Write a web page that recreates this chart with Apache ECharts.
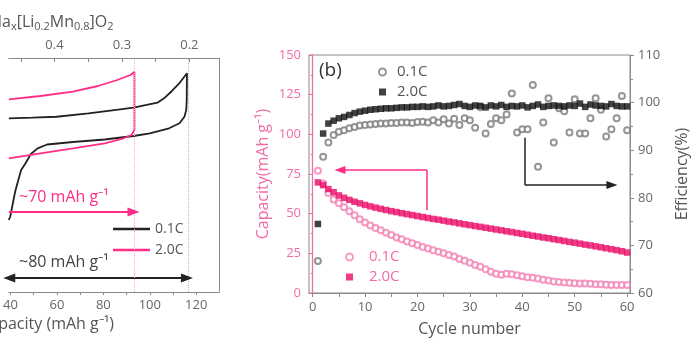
<!DOCTYPE html>
<html>
<head>
<meta charset="utf-8">
<script src="https://cdn.jsdelivr.net/npm/echarts@6/dist/echarts.min.js"></script>
<style>
  html, body { margin: 0; padding: 0; background: #fff; }
  #chart { width: 700px; height: 350px; }
</style>
</head>
<body>
<div id="chart"></div>
<script>
// panel (a): voltage profiles, capacity (mAh/g) vs voltage (V)
const v01Cap = [39.3, 49.5, 59.9, 73.6, 84.7, 93.0, 103.3, 106.6, 109.5, 112.8, 116.0, 115.9, 115.7, 114.9, 112.8, 108.3, 100, 93.0, 80.6, 66.9, 55.8, 51.7, 48.8, 46.3, 44.6, 43.4, 42.0, 39.9, 39.3];
const v01Volt = [3.727, 3.735, 3.747, 3.791, 3.833, 3.863, 3.927, 3.994, 4.077, 4.179, 4.304, 3.96, 3.833, 3.747, 3.663, 3.599, 3.535, 3.5, 3.455, 3.423, 3.391, 3.342, 3.269, 3.141, 3.064, 2.936, 2.782, 2.465, 2.423];
const v20Cap = [39.3, 52.9, 66.9, 77.7, 86.0, 91.7, 93.4, 93.4, 92.1, 88.8, 80.6, 66.9, 52.9, 39.3];
const v20Volt = [3.97, 4.013, 4.068, 4.141, 4.218, 4.282, 4.324, 3.577, 3.513, 3.471, 3.406, 3.342, 3.278, 3.214];
const naTicks = [0.2, 0.25, 0.3, 0.35, 0.4, 0.45];
const naLabels = [0.2, 0.3, 0.4];
const capTicks = [40, 50, 60, 70, 80, 90, 100, 110, 120];
const capLabels = [40, 60, 80, 100, 120];

// panel (b): cycling
const cycles = [1, 2, 3, 4, 5, 6, 7, 8, 9, 10, 11, 12, 13, 14, 15, 16, 17, 18, 19, 20,
  21, 22, 23, 24, 25, 26, 27, 28, 29, 30, 31, 32, 33, 34, 35, 36, 37, 38, 39, 40,
  41, 42, 43, 44, 45, 46, 47, 48, 49, 50, 51, 52, 53, 54, 55, 56, 57, 58, 59, 60];
const cap01 = [77, 69, 63, 59, 56.5, 54, 51.5, 49, 46.5, 44.5,
  42.5, 41, 39.5, 38, 36.5, 35, 33.8, 32.5, 31.3, 30.2,
  29, 28, 27, 26, 25, 24, 23, 21.5, 20.3, 19,
  17.6, 16.6, 15, 13.4, 12.2, 11.5, 12.2, 11.8, 11.2, 10.5,
  10, 9.6, 9.2, 8.3, 7.8, 7.3, 7, 6.6, 6.4, 6.2,
  6, 6, 5.8, 5.5, 5.5, 5.2, 5, 5, 5, 5];
const cap20 = [69.7, 68, 65.5, 63.5, 61.5, 60, 58.7, 57.5, 56.5, 55.5,
  54.6, 53.8, 53, 52.3, 51.6, 51, 50.3, 49.7, 49.1, 48.5,
  47.9, 47.3, 46.7, 46.2, 45.6, 45, 44.5, 43.9, 43.3, 42.8,
  42.2, 41.7, 41.1, 40.6, 40, 39.5, 38.9, 38.4, 37.8, 37.3,
  36.7, 36.1, 35.6, 35, 34.5, 33.9, 33.4, 32.8, 32.2, 31.7,
  31.1, 30.5, 30, 29.4, 28.8, 28.2, 27.6, 27, 26.3, 25.5];
const eff01 = [66.7, 88.6, 91.6, 93.2, 93.9, 94.2, 94.6, 94.9, 95.2, 95.3,
  95.4, 95.5, 95.6, 95.6, 95.7, 95.7, 95.8, 95.8, 95.7, 95.9,
  96.0, 95.8, 96.3, 95.8, 96.5, 95.6, 96.6, 95.3, 96.7, 96.3,
  94.7, 99.0, 93.5, 95.5, 96.7, 96.3, 97.5, 101.9, 93.7, 94.4,
  94.4, 103.7, 86.5, 95.8, 100.9, 91.6, 98.8, 98.2, 93.7, 100.7,
  93.5, 93.5, 96.7, 100.9, 98.5, 92.9, 94.4, 96.7, 101.4, 94.2];
const eff20 = [74.5, 93.5, 95.6, 96.2, 96.7, 97.0, 97.4, 97.8, 98.1, 98.3,
  98.5, 98.6, 98.7, 98.8, 98.8, 98.9, 99.0, 99.0, 99.1, 99.1,
  99.2, 99.1, 99.2, 99.4, 99.2, 99.3, 99.5, 99.7, 99.3, 99.1,
  99.4, 99.3, 99.0, 99.4, 99.2, 99.5, 99.1, 99.3, 99.2, 99.4,
  99.0, 99.3, 99.6, 99.1, 99.3, 99.4, 99.3, 99.2, 99.4, 99.3,
  99.8, 99.1, 99.6, 99.4, 99.3, 99.2, 99.7, 99.3, 99.2, 99.2];
const cycleTicks = [0, 5, 10, 15, 20, 25, 30, 35, 40, 45, 50, 55, 60];
const cycleLabels = [0, 10, 20, 30, 40, 50, 60];

const FONT = 'Open Sans';
const GRAY = '#555';
const AXIS = '#8a8a8a';
const PINK = '#f26ca7';
const PINK_DARK = '#ea0a68';
const PINK_LINE = '#ff2d87';

const zip = (a, b) => a.map((v, i) => [v, b[i]]);
const legendName = name => name.split('|')[1];

const myChart = echarts.init(document.getElementById('chart'));

const option = {
    backgroundColor: '#fff',
    animation: false,
    textStyle: {fontFamily: FONT},
    grid: [
        {left: 0, top: 58, width: 219, height: 234},
        {left: 309, top: 55, width: 321, height: 238, show: true, borderColor: AXIS, borderWidth: 1}
    ],
    legend: [
        {
            data: ['v|0.1C', 'v|2.0C'], orient: 'vertical', left: 113, top: 222, padding: 0,
            icon: 'rect', itemWidth: 37, itemHeight: 2.5, itemGap: 7, formatter: legendName,
            textStyle: {color: GRAY, fontSize: 14, lineHeight: 14, fontFamily: FONT}
        },
        {
            data: [{name: 'e|0.1C', icon: 'emptyCircle'}, {name: 'e|2.0C', icon: 'rect'}],
            orient: 'vertical', left: 378, top: 64, padding: 0,
            itemWidth: 7, itemHeight: 7, itemGap: 4, formatter: legendName,
            textStyle: {color: GRAY, fontSize: 15, lineHeight: 16, fontFamily: FONT, padding: [0, 0, 0, 6]}
        },
        {
            data: [{name: 'c|0.1C', icon: 'emptyCircle'}, {name: 'c|2.0C', icon: 'rect'}],
            orient: 'vertical', left: 345, top: 249, padding: 0,
            itemWidth: 7, itemHeight: 7, itemGap: 4, formatter: legendName,
            textStyle: {color: PINK, fontSize: 15, lineHeight: 16, fontFamily: FONT, padding: [0, 0, 0, 11]}
        }
    ],
    xAxis: [
        {
            gridIndex: 0, type: 'value', min: 39.3, max: 129.8,
            axisLine: {lineStyle: {color: AXIS}},
            axisTick: {customValues: capTicks, length: 3, lineStyle: {color: AXIS}},
            axisLabel: {customValues: capLabels, color: '#666', fontSize: 13, margin: 7},
            splitLine: {show: false}
        },
        {
            gridIndex: 0, type: 'value', position: 'top', inverse: true, min: 0.156, max: 0.4678,
            axisLine: {lineStyle: {color: AXIS}},
            axisTick: {inside: true, customValues: naTicks, length: 4, lineStyle: {color: AXIS}},
            axisLabel: {customValues: naLabels, color: '#666', fontSize: 13, margin: 6,
                formatter: v => v.toFixed(1)},
            splitLine: {show: false}
        },
        {
            gridIndex: 1, type: 'value', min: -0.7, max: 60.55,
            name: 'Cycle number', nameLocation: 'middle', nameGap: 28,
            nameTextStyle: {color: GRAY, fontSize: 16, fontFamily: FONT},
            axisLine: {lineStyle: {color: AXIS}},
            axisTick: {customValues: cycleTicks, length: 4, lineStyle: {color: AXIS}},
            axisLabel: {customValues: cycleLabels, color: '#666', fontSize: 13, margin: 8},
            splitLine: {show: false}
        }
    ],
    yAxis: [
        {gridIndex: 0, type: 'value', min: 1.5, max: 4.5, show: false},
        {
            gridIndex: 0, type: 'value', position: 'right', min: 0, max: 1,
            axisLine: {show: true, lineStyle: {color: AXIS}},
            axisTick: {show: false}, axisLabel: {show: false}, splitLine: {show: false}
        },
        {
            gridIndex: 1, type: 'value', min: 0, max: 150, interval: 25,
            name: 'Capacity(mAh g⁻¹)', nameLocation: 'middle', nameGap: 38,
            nameTextStyle: {color: PINK, fontSize: 16, fontFamily: FONT},
            axisLine: {show: true, lineStyle: {color: PINK, width: 1.3}},
            axisTick: {length: 4, lineStyle: {color: PINK}},
            minorTick: {show: true, splitNumber: 2, length: 2, lineStyle: {color: PINK}},
            axisLabel: {color: PINK, fontSize: 13, margin: 8},
            splitLine: {show: false}
        },
        {
            gridIndex: 1, type: 'value', position: 'right', min: 60, max: 110, interval: 10,
            name: 'Efficiency(%)', nameLocation: 'middle', nameGap: 44, nameRotate: 90,
            nameTextStyle: {color: GRAY, fontSize: 16, fontFamily: FONT},
            axisLine: {show: true, lineStyle: {color: AXIS}},
            axisTick: {length: 4, lineStyle: {color: AXIS}},
            minorTick: {show: true, splitNumber: 2, length: 3, lineStyle: {color: AXIS}},
            axisLabel: {color: '#666', fontSize: 13, margin: 8},
            splitLine: {show: false}
        }
    ],
    series: [
        {
            name: 'v|0.1C', type: 'line', xAxisIndex: 0, yAxisIndex: 0,
            data: zip(v01Cap, v01Volt), symbol: 'none',
            lineStyle: {color: '#222', width: 1.8}, itemStyle: {color: '#222'},
            markLine: {
                silent: true, animation: false, label: {show: false}, symbol: 'none',
                data: [
                    {xAxis: 116.5, lineStyle: {color: '#bbb', type: 'dotted', width: 1}},
                    [
                        {coord: [39.5, 1.68], symbol: 'triangle', symbolSize: [9, 12],
                            lineStyle: {color: '#222', width: 2.2, type: 'solid'}},
                        {coord: [116, 1.68], symbol: 'triangle', symbolSize: [9, 12]}
                    ]
                ]
            }
        },
        {
            name: 'v|2.0C', type: 'line', xAxisIndex: 0, yAxisIndex: 0,
            data: zip(v20Cap, v20Volt), symbol: 'none',
            lineStyle: {color: PINK_LINE, width: 1.8}, itemStyle: {color: PINK_LINE},
            markLine: {
                silent: true, animation: false, label: {show: false}, symbol: 'none',
                data: [
                    {xAxis: 93.4, lineStyle: {color: '#ffa3cb', type: 'dotted', width: 1}},
                    [
                        {coord: [39.3, 2.526], symbol: 'none',
                            lineStyle: {color: PINK_LINE, width: 2, type: 'solid'}},
                        {coord: [93, 2.526], symbol: 'triangle', symbolSize: [9, 12]}
                    ]
                ]
            }
        },
        {
            name: 'c|0.1C', type: 'scatter', xAxisIndex: 2, yAxisIndex: 2,
            data: zip(cycles, cap01), symbol: 'emptyCircle', symbolSize: 6,
            itemStyle: {color: '#f47fb4', borderWidth: 1.2}
        },
        {
            name: 'c|2.0C', type: 'scatter', xAxisIndex: 2, yAxisIndex: 2,
            data: zip(cycles, cap20), symbol: 'rect', symbolSize: 6.5,
            itemStyle: {color: PINK_DARK},
            markLine: {
                silent: true, animation: false, label: {show: false}, symbol: 'none',
                lineStyle: {color: PINK_LINE, width: 1.5, type: 'solid'},
                data: [
                    [{coord: [21.8, 52.3]}, {coord: [21.8, 77.5]}],
                    [{coord: [21.8, 77.5]}, {coord: [5.2, 77.5], symbol: 'triangle', symbolSize: [8, 11]}]
                ]
            }
        },
        {
            name: 'e|0.1C', type: 'scatter', xAxisIndex: 2, yAxisIndex: 3,
            data: zip(cycles, eff01), symbol: 'emptyCircle', symbolSize: 6,
            itemStyle: {color: '#7a7a7a', borderWidth: 1}
        },
        {
            name: 'e|2.0C', type: 'scatter', xAxisIndex: 2, yAxisIndex: 3,
            data: zip(cycles, eff20), symbol: 'rect', symbolSize: 6.5,
            itemStyle: {color: '#111'},
            markLine: {
                silent: true, animation: false, label: {show: false}, symbol: 'none',
                lineStyle: {color: '#222', width: 1.5, type: 'solid'},
                data: [
                    [{coord: [40.5, 92.6]}, {coord: [40.5, 82.7]}],
                    [{coord: [40.5, 82.7]}, {coord: [57.1, 82.7], symbol: 'triangle', symbolSize: [8, 11]}]
                ]
            }
        }
    ],
    graphic: [
        {
            type: 'text', left: -10, top: 12,
            style: {
                text: '{m|Na}{s|x}{m|[Li}{s|0.2}{m|Mn}{s|0.8}{m|]O}{s|2}',
                fill: GRAY, font: '16px ' + FONT,
                rich: {
                    m: {fontSize: 16, fontFamily: FONT, fill: GRAY, lineHeight: 24},
                    s: {fontSize: 11, fontFamily: FONT, fill: GRAY, lineHeight: 24, padding: [9, 0, 0, 0]}
                }
            }
        },
        {
            type: 'text', right: 700 - 114, top: 316,
            style: {text: 'Capacity (mAh g⁻¹)', fill: GRAY, font: '16px ' + FONT}
        },
        {
            type: 'text', left: 19, top: 189,
            style: {text: '~70 mAh g⁻¹', fill: PINK_LINE, font: '16px ' + FONT}
        },
        {
            type: 'text', left: 19, top: 254,
            style: {text: '~80 mAh g⁻¹', fill: '#444', font: '16px ' + FONT}
        },
        {
            type: 'text', left: 319, top: 61,
            style: {text: '(b)', fill: '#333', font: '19px ' + FONT}
        }
    ]
};

myChart.setOption(option);
window.onresize = myChart.resize;
</script>
</body>
</html>
